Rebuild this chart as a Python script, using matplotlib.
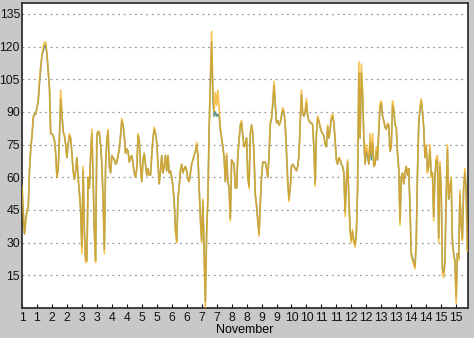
import matplotlib
matplotlib.use("Agg")
import matplotlib.pyplot as plt
import matplotlib.dates as mdates
from matplotlib.ticker import FuncFormatter
import pandas as pd

# hourly readings of the orange series, one row per day (Nov 1 .. Nov 15)
orange_vals = [
    56, 44, 34, 40, 45, 46, 63, 73, 79, 88, 89, 89, 92, 95, 105, 111, 116, 120, 122, 122, 117, 109, 101, 80,
    80, 79, 77, 71, 60, 64, 78, 100, 89, 81, 79, 75, 69, 75, 80, 78, 71, 63, 59, 63, 69, 60, 53, 45,
    25, 65, 35, 21, 21, 60, 55, 70, 82, 60, 35, 21, 80, 81, 81, 75, 66, 50, 25, 65, 77, 82, 65, 62,
    70, 69, 68, 66, 67, 70, 73, 79, 87, 84, 79, 71, 73, 72, 67, 69, 70, 66, 62, 60, 64, 80, 77, 65,
    58, 68, 71, 66, 61, 64, 61, 61, 70, 78, 83, 80, 76, 66, 57, 63, 70, 62, 65, 70, 63, 70, 62, 63,
    60, 56, 49, 35, 30, 50, 56, 63, 66, 62, 64, 65, 63, 59, 58, 62, 66, 68, 70, 72, 76, 70, 55, 40,
    30, 50, 25, 0, 35, 50, 82, 105, 127, 100, 90, 99, 93, 100, 92, 82, 78, 74, 69, 58, 71, 58, 55, 40,
    68, 67, 66, 55, 55, 70, 77, 84, 86, 79, 74, 75, 78, 60, 55, 80, 84, 80, 70, 52, 47, 40, 33, 48,
    60, 67, 67, 67, 64, 60, 70, 85, 87, 95, 104, 94, 85, 86, 84, 85, 89, 92, 90, 84, 72, 58, 49, 55,
    65, 66, 65, 64, 63, 65, 70, 85, 100, 89, 88, 91, 96, 88, 86, 85, 85, 84, 73, 56, 80, 88, 86, 83,
    81, 80, 79, 75, 74, 84, 78, 82, 88, 89, 85, 77, 68, 66, 69, 68, 66, 65, 62, 42, 58, 68, 50, 35,
    30, 36, 30, 28, 34, 55, 113, 78, 112, 100, 78, 66, 75, 72, 66, 80, 70, 80, 65, 66, 74, 68, 82, 94,
    95, 88, 86, 83, 82, 85, 84, 72, 74, 95, 92, 84, 83, 71, 64, 38, 60, 62, 57, 62, 65, 61, 64, 45,
    24, 22, 20, 18, 30, 62, 85, 92, 96, 90, 83, 69, 75, 62, 65, 75, 60, 62, 40, 60, 69, 70, 30, 67,
    55, 16, 14, 20, 50, 75, 50, 55, 60, 30, 24, 21, 2, 25, 22, 54, 38, 31, 55, 64, 55, 26,
]

# hourly readings of the teal series (mostly hidden under the orange one)
teal_vals = [
    56, 44, 34, 40, 45, 46, 63, 73, 79, 87, 89, 89, 92, 95, 103, 110, 116, 118, 120, 121, 116, 109, 101, 80,
    80, 79, 77, 71, 60, 64, 78, 96, 89, 81, 79, 75, 69, 75, 79, 78, 71, 63, 59, 63, 69, 60, 53, 45,
    28, 63, 35, 22, 22, 60, 55, 70, 80, 60, 35, 22, 79, 81, 80, 75, 66, 50, 27, 65, 77, 81, 65, 62,
    70, 69, 68, 66, 67, 70, 73, 79, 86, 84, 79, 71, 73, 72, 67, 69, 70, 66, 62, 60, 64, 79, 77, 65,
    58, 68, 71, 66, 61, 64, 61, 61, 70, 78, 82, 80, 76, 66, 57, 63, 70, 62, 65, 70, 63, 70, 62, 63,
    60, 56, 49, 36, 31, 50, 56, 63, 66, 62, 64, 65, 63, 59, 58, 62, 66, 68, 70, 72, 75, 70, 55, 41,
    31, 49, 26, 3, 35, 50, 82, 104, 122, 96, 88, 90, 88, 89, 88, 82, 78, 74, 69, 58, 70, 58, 55, 41,
    68, 67, 66, 55, 55, 70, 77, 84, 85, 79, 74, 75, 78, 60, 56, 80, 84, 80, 70, 52, 47, 40, 34, 48,
    60, 67, 67, 67, 64, 60, 70, 84, 87, 93, 102, 94, 85, 86, 84, 85, 88, 91, 90, 84, 72, 58, 50, 55,
    65, 66, 65, 64, 63, 65, 70, 85, 98, 89, 88, 90, 94, 88, 86, 85, 85, 84, 73, 57, 80, 87, 86, 83,
    81, 80, 79, 75, 74, 83, 78, 82, 87, 88, 85, 77, 68, 66, 69, 68, 66, 65, 62, 44, 58, 67, 50, 36,
    31, 35, 31, 29, 34, 55, 108, 78, 108, 98, 78, 66, 72, 70, 66, 76, 68, 76, 65, 66, 72, 68, 82, 92,
    94, 88, 86, 83, 82, 84, 84, 72, 74, 93, 91, 84, 83, 71, 64, 40, 60, 62, 57, 62, 65, 61, 64, 46,
    25, 23, 21, 19, 30, 62, 84, 91, 95, 90, 83, 69, 74, 63, 65, 73, 61, 62, 42, 60, 68, 68, 32, 65,
    55, 18, 16, 21, 50, 73, 50, 55, 59, 31, 25, 22, 5, 25, 23, 52, 38, 32, 55, 62, 55, 27,
]

y_ticks = [15, 30, 45, 60, 75, 90, 105, 120, 135]

start = pd.Timestamp("2012-11-01 00:00")
times = pd.date_range(start, periods=len(orange_vals), freq="h")

plt.rcParams["font.family"] = ["Liberation Sans", "DejaVu Sans"]

fig = plt.figure(figsize=(4.74, 3.38), dpi=100, facecolor="#c8c8c8")
ax = fig.add_axes([22 / 474, 1 - 308 / 338, 446 / 474, 305 / 338])
ax.set_facecolor("white")

ax.plot(times, teal_vals, color="#5b9488", lw=1.1, zorder=2)
ax.plot(times, orange_vals, color="#f5ad1c", lw=1.2, alpha=0.75, zorder=3)

ax.set_ylim(0, 140)
ax.set_xlim(start, start + pd.Timedelta(hours=357.5))
ax.set_yticks(y_ticks)
ax.yaxis.grid(True, linestyle=(0, (1.5, 3)), color="#999999", lw=0.9)
ax.set_axisbelow(True)

ax.xaxis.set_major_locator(mdates.HourLocator(byhour=[0, 12]))
ax.xaxis.set_major_formatter(FuncFormatter(lambda x, pos: str(mdates.num2date(x).day)))
ax.tick_params(axis="both", direction="in", labelsize=8.8, colors="#111111")
ax.tick_params(axis="x", length=3, pad=3)
ax.tick_params(axis="y", length=0, pad=1.5)
ax.set_xlabel("November", fontsize=9, labelpad=0)

for side in ax.spines.values():
    side.set_color("#333333")
    side.set_linewidth(1.3)

fig.savefig("out.png", dpi=100, facecolor=fig.get_facecolor())
